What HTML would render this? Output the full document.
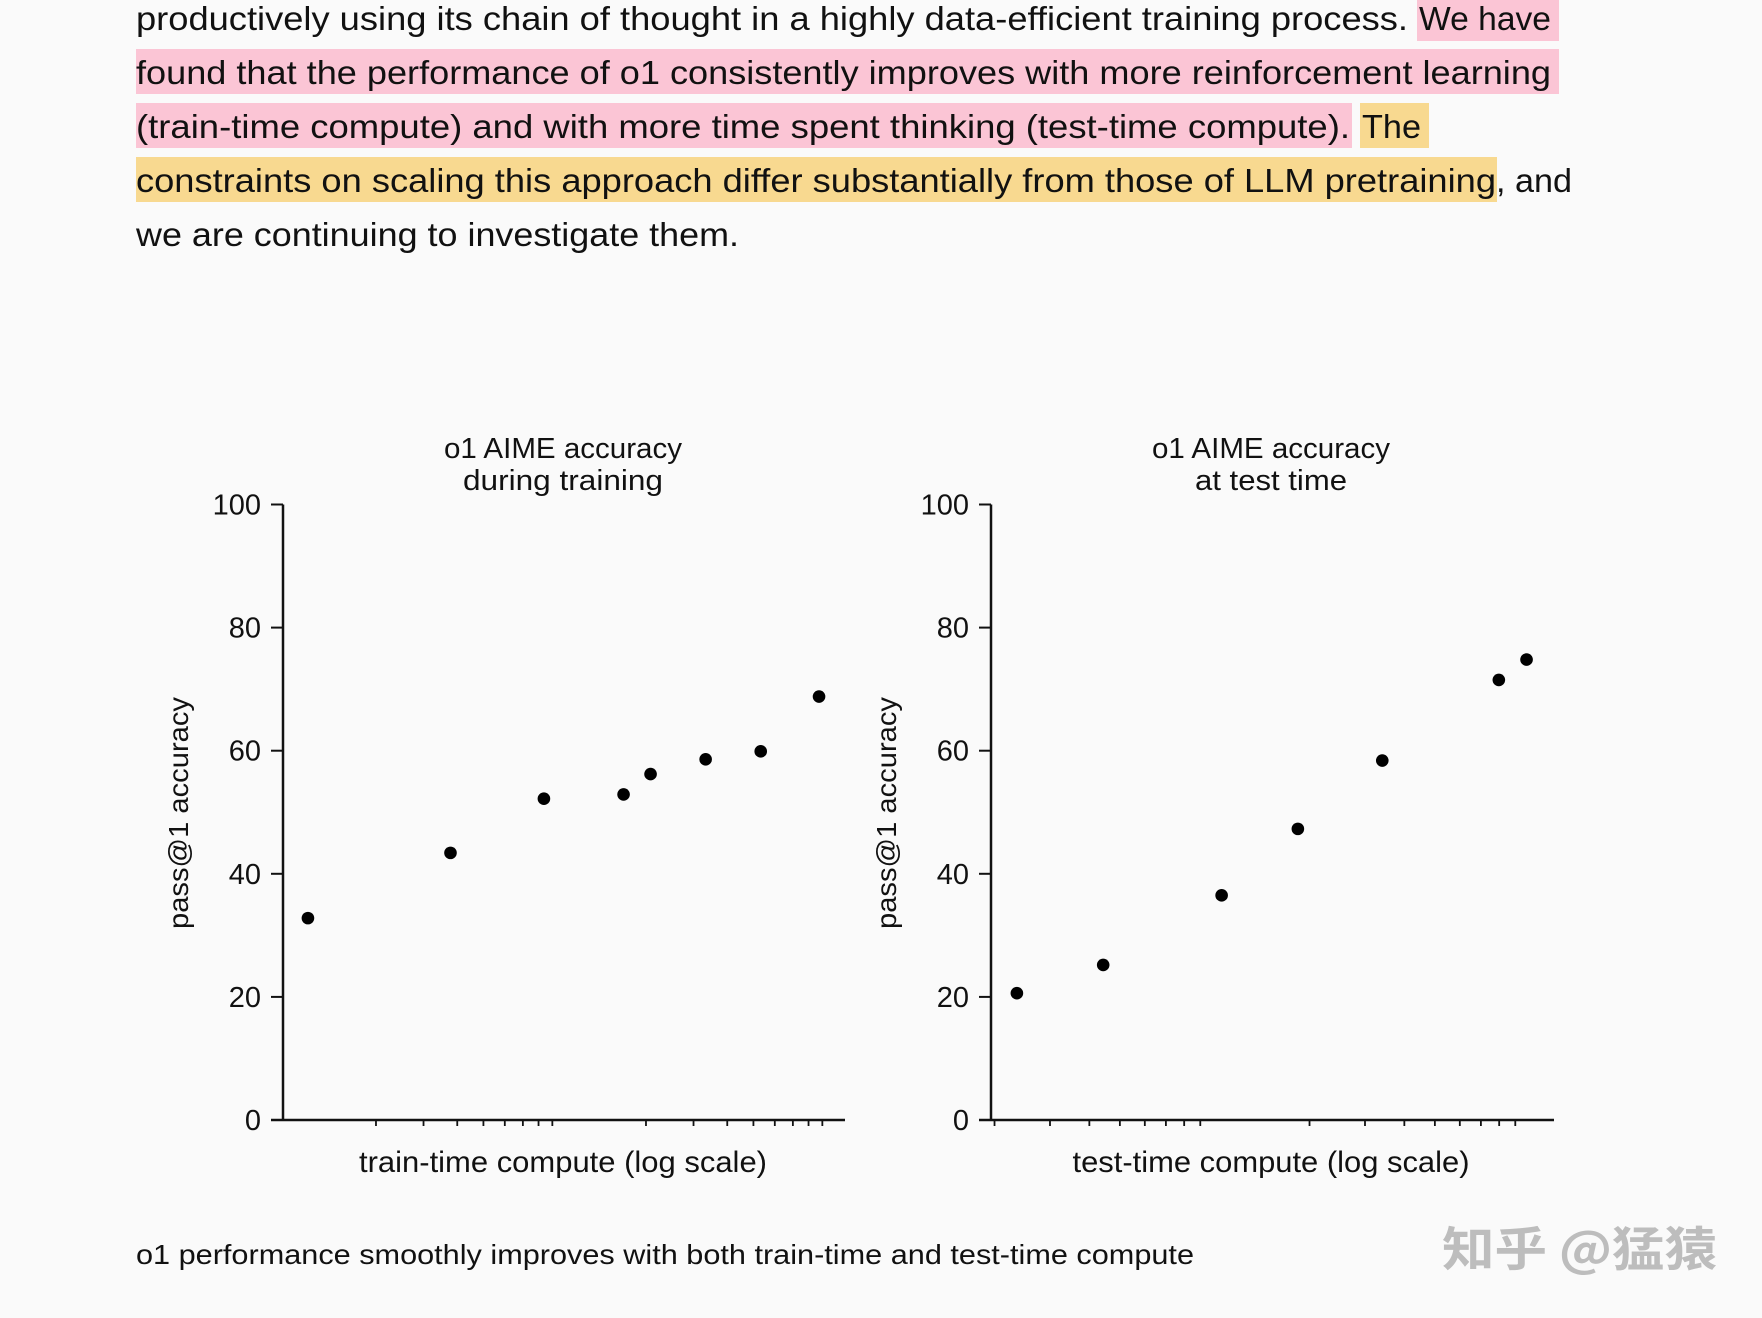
<!DOCTYPE html>
<html><head><meta charset="utf-8">
<style>
html,body{margin:0;padding:0;background:#fafafa;}
svg{display:block;}
text{font-family:"Liberation Sans","Noto Sans CJK SC",sans-serif;fill:#111;}
</style></head>
<body>
<svg id="page" width="1762" height="1318" viewBox="0 0 1762 1318" xmlns="http://www.w3.org/2000/svg">
<rect x="0" y="0" width="1762" height="1318" fill="#fafafa"/>
<g font-size="33">
  <rect x="1417" y="0" width="142" height="41" fill="#fbc5d5"/>
  <rect x="136" y="49" width="1423" height="45" fill="#fbc5d5"/>
  <rect x="136" y="103" width="1216" height="45" fill="#fbc5d5"/>
  <rect x="1360" y="103" width="69" height="45" fill="#f8d990"/>
  <rect x="136" y="157" width="1361" height="45" fill="#f8d990"/>
  <text x="136" y="30" textLength="1272" lengthAdjust="spacingAndGlyphs">productively using its chain of thought in a highly data-efficient training process.</text>
  <text x="1419" y="30" textLength="132" lengthAdjust="spacingAndGlyphs">We have</text>
  <text x="136" y="84" textLength="1415" lengthAdjust="spacingAndGlyphs">found that the performance of o1 consistently improves with more reinforcement learning</text>
  <text x="136" y="138" textLength="1214" lengthAdjust="spacingAndGlyphs">(train-time compute) and with more time spent thinking (test-time compute).</text>
  <text x="1362" y="138" textLength="59" lengthAdjust="spacingAndGlyphs">The</text>
  <text x="136" y="192" textLength="1360" lengthAdjust="spacingAndGlyphs">constraints on scaling this approach differ substantially from those of LLM pretraining</text>
  <text x="1496" y="192" textLength="76" lengthAdjust="spacingAndGlyphs">, and</text>
  <text x="136" y="246" textLength="603" lengthAdjust="spacingAndGlyphs">we are continuing to investigate them.</text>
</g>
<g id="chart-left"></g>
<g id="chart-right"></g>
<text x="136" y="1264" font-size="28" textLength="1058" lengthAdjust="spacingAndGlyphs">o1 performance smoothly improves with both train-time and test-time compute</text>
<text x="1442" y="1266" font-size="47" style="fill:#bdbdbd;font-family:'Noto Sans CJK SC',sans-serif;font-weight:bold" textLength="275" lengthAdjust="spacingAndGlyphs">知乎 @猛猿</text>
</svg>
<script>
// log10(compute) positions and accuracy values
const trainLogCompute = [0.049, 0.577, 0.923, 1.218, 1.318, 1.522, 1.726, 1.942];
const trainAccuracy = [32.8, 43.4, 52.2, 52.9, 56.2, 58.6, 59.9, 68.8];
const testLogCompute = [0.372, 0.646, 1.022, 1.264, 1.532, 1.902, 1.990];
const testAccuracy = [20.6, 25.2, 36.5, 47.3, 58.4, 71.5, 74.8];
const yTickValues = [0, 20, 40, 60, 80, 100];
const yTickLabels = ["0", "20", "40", "60", "80", "100"];
const minorTickMultipliers = [2, 3, 4, 5, 6, 7, 8, 9];
const decades = [0, 1];

const NS = "http://www.w3.org/2000/svg";
function mk(tag, attrs, parent) {
  const e = document.createElementNS(NS, tag);
  for (const k in attrs) e.setAttribute(k, attrs[k]);
  parent.appendChild(e);
  return e;
}
function drawChart(g, cfg, xs, ys, titles, titleLens, xlabel, xlabelLen, prefix) {
  const yScale = v => cfg.y0 + (cfg.y100 - cfg.y0) * v / 100;
  const xScale = lv => cfg.xOne + cfg.decade * lv;
  const ya = mk("line", {x1: cfg.ax, y1: cfg.y100, x2: cfg.ax, y2: cfg.y0 + 1, stroke: "#111", "stroke-width": 2.5}, g);
  
  
  const xa = mk("line", {x1: cfg.ax - 12, y1: cfg.y0, x2: cfg.axEnd, y2: cfg.y0, stroke: "#111", "stroke-width": 2.5}, g);
  
  
  yTickValues.forEach((v, i) => {
    const y = yScale(v);
    const t = mk("line", {x1: cfg.ax - 12, y1: y, x2: cfg.ax, y2: y, stroke: "#111", "stroke-width": 2}, g);
    
    
    const l = mk("text", {x: cfg.ax - 22, y: y + 10, "text-anchor": "end", "font-size": 29}, g);
    
    
    l.textContent = yTickLabels[i];
  });
  decades.forEach(d => {
    minorTickMultipliers.forEach(m => {
      const x = xScale(d + Math.log10(m));
      const t = mk("line", {x1: x, y1: cfg.y0, x2: x, y2: cfg.y0 + 6, stroke: "#111", "stroke-width": 1.8}, g);
      
      
    });
  });
  xs.forEach((lv, i) => {
    const c = mk("circle", {cx: xScale(lv), cy: yScale(ys[i]), r: 6.3, fill: "#000"}, g);
    
    
  });
  titles.forEach((s, i) => {
    const t = mk("text", {x: cfg.cx, y: 458 + i * 32, "text-anchor": "middle", "font-size": 29, textLength: titleLens[i], lengthAdjust: "spacingAndGlyphs"}, g);
    
    
    t.textContent = s;
  });
  const xl = mk("text", {x: cfg.cx, y: 1172, "text-anchor": "middle", "font-size": 30, textLength: xlabelLen, lengthAdjust: "spacingAndGlyphs"}, g);
  
  
  xl.textContent = xlabel;
  const yl = mk("text", {x: 0, y: 0, "text-anchor": "middle", "font-size": 28, textLength: 232, lengthAdjust: "spacingAndGlyphs", transform: "translate(" + (cfg.ax - 95) + ",813) rotate(-90)"}, g);
  
  
  yl.textContent = "pass@1 accuracy";
}
drawChart(document.getElementById("chart-left"),
  {ax: 283, axEnd: 845, y0: 1120, y100: 504.5, xOne: 294.7, decade: 270, cx: 563},
  trainLogCompute, trainAccuracy, ["o1 AIME accuracy", "during training"], [238, 200],
  "train-time compute (log scale)", 408, "train");
drawChart(document.getElementById("chart-right"),
  {ax: 991, axEnd: 1554, y0: 1120, y100: 504.5, xOne: 899.7, decade: 315, cx: 1271},
  testLogCompute, testAccuracy, ["o1 AIME accuracy", "at test time"], [238, 152],
  "test-time compute (log scale)", 397, "test");
</script>
</body></html>
